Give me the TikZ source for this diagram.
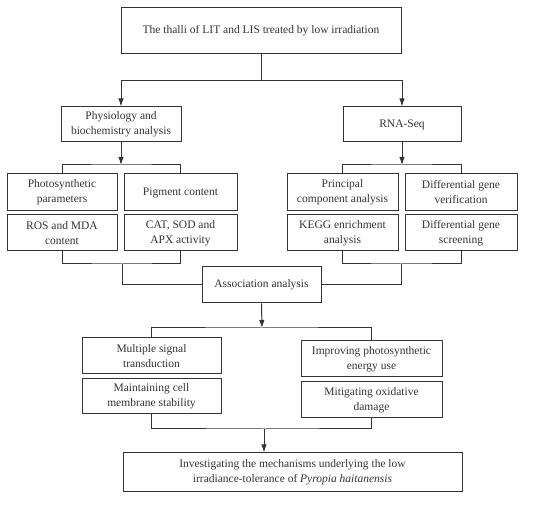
\documentclass[tikz,border=0pt]{standalone}
\usepackage{fontspec}
\setmainfont{Liberation Serif}
\usepackage{tikz}
\usetikzlibrary{arrows.meta,calc,positioning}
\definecolor{linegray}{HTML}{333333}
\definecolor{textgray}{HTML}{333333}

\begin{document}
\begin{tikzpicture}[x=1pt,y=-1pt,line width=1pt,draw=linegray,>={Latex[length=8pt,width=5.5pt]},
	box/.style={draw=linegray,text=textgray,align=center,inner sep=0pt,minimum height=36pt,font=\fontsize{11.5}{15}\selectfont}]
		\useasboundingbox (0,0) rectangle (550,508);
		\node[box,minimum width=280pt,minimum height=46pt] (top) at (261,31) {The thalli of LIT and LIS treated by low irradiation};
		\node[box,minimum width=120pt,minimum height=35pt] (phys) at (121,124.5) {Physiology and\\biochemistry analysis};
		\node[box,minimum width=118pt,minimum height=35pt] (rna) at (402,124.5) {RNA-Seq};
		\node[box,minimum width=110pt,minimum height=37pt] (photo) at (62,192.5) {Photosynthetic\\parameters};
		\node[box,minimum width=113pt,minimum height=37pt] (pigm) at (180.5,192.5) {Pigment content};
		\node[box,minimum width=111pt,minimum height=37pt] (pca) at (342.5,192.5) {Principal\\component analysis};
		\node[box,minimum width=112pt,minimum height=37pt] (dgv) at (461,192.5) {Differential gene\\verification};
		\node[box,minimum width=110pt] (ros) at (62,233) {ROS and MDA\\content};
		\node[box,minimum width=113pt] (cat) at (180.5,233) {CAT, SOD and\\APX activity};
		\node[box,minimum width=111pt] (kegg) at (342.5,233) {KEGG enrichment\\analysis};
		\node[box,minimum width=112pt] (dgs) at (461,233) {Differential gene\\screening};
		\node[box,minimum width=119pt] (assoc) at (261.5,285) {Association analysis};
		\node[box,minimum width=139pt] (multi) at (151.5,356) {Multiple signal\\transduction};
		\node[box,minimum width=139pt,minimum height=35pt] (maint) at (151.5,396.5) {Maintaining cell\\membrane stability};
		\node[box,minimum width=141pt] (impr) at (371.5,359) {Improving photosynthetic\\energy use};
		\node[box,minimum width=141pt] (mitig) at (371.5,400) {Mitigating oxidative\\damage};
		\node[box,minimum width=339pt,minimum height=38pt] (final) at (292.5,472) {Investigating the mechanisms underlying the low\\irradiance-tolerance of \textit{Pyropia haitanensis}};
		% junction points
		\coordinate (j1) at (261,81);
		\coordinate (jl) at (121,165);
		\coordinate (jr) at (402,165);
		\coordinate (kl) at (122,264);
		\coordinate (kr) at (401,264);
		\coordinate (j2) at (262,328);
		\coordinate (j3) at (264,429);
		% top
		\draw (top.south) -- (j1);
		\draw[->] (j1) -| (phys.north);
		\draw[->] (j1) -| (rna.north);
		% left branch
		\draw[->] (phys.south) -- (jl);
		\draw (photo.north) |- (jl) -| (pigm.north);
		\draw[->] (rna.south) -- (jr);
		\draw (pca.north) |- (jr) -| (dgv.north);
		\draw (ros.south) |- (kl) -| (cat.south);
		\draw (kegg.south) |- (kr) -| (dgs.south);
		\draw (kl) |- (assoc.west);
		\draw (kr) |- (assoc.east);
		% results
		\draw[->] (assoc.south) -- (j2);
		\draw (multi.north) |- (j2) -| (impr.north);
		\draw (maint.south) |- (j3) -| (mitig.south);
		\draw[->] (j3) -- (j3 |- final.north);
	\end{tikzpicture}
\end{document}
